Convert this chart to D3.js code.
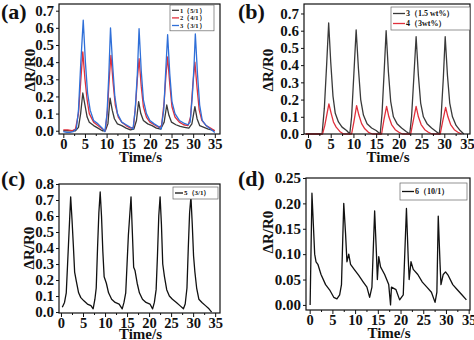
<!DOCTYPE html>
<html>
<head>
<meta charset="utf-8">
<script src="https://cdn.jsdelivr.net/npm/d3@7"></script>
<style>
  body { margin: 0; background: #fff; }
  svg { display: block; font-family: "Liberation Serif", "Times New Roman", serif; font-weight: bold; }
</style>
</head>
<body>
<div id="chart"></div>
<script>
// ---- data (time in s, ΔR/R0) ----
const xTicks = [0, 5, 10, 15, 20, 25, 30, 35];

const seriesA1 = [[0,0.0],[1,0.0],[2,0.0],[2.8,0.0],[3.5,0.02],[4,0.1],[4.5,0.22],[5,0.15],[5.5,0.08],[6,0.05],[7,0.03],[8,0.015],[9,0.0],[9.7,0.0],[10.3,0.04],[10.8,0.19],[11.3,0.12],[11.8,0.07],[12.5,0.04],[13.5,0.03],[14.5,0.015],[15.5,0.005],[16.3,0.01],[16.9,0.06],[17.4,0.17],[17.9,0.1],[18.5,0.06],[19.5,0.04],[20.5,0.03],[21.5,0.015],[22.5,0.01],[23.3,0.05],[23.9,0.15],[24.4,0.09],[25,0.05],[26,0.035],[27,0.025],[28,0.02],[29,0.015],[29.7,0.04],[30.4,0.14],[30.9,0.07],[31.5,0.03],[32.5,0.02],[33.5,0.01],[35,0.0]];
const seriesA2 = [[0,0.005],[1,0.005],[2,0.0],[2.8,0.01],[3.5,0.1],[4,0.28],[4.5,0.46],[5,0.3],[5.5,0.18],[6,0.1],[7,0.05],[8,0.03],[9,0.01],[9.7,0.0],[10.2,0.12],[10.6,0.3],[11,0.44],[11.5,0.28],[12,0.15],[12.7,0.08],[13.5,0.05],[14.5,0.03],[15.5,0.015],[16.2,0.02],[16.7,0.15],[17.1,0.3],[17.5,0.42],[18,0.26],[18.5,0.14],[19.2,0.08],[20,0.05],[21,0.035],[22,0.02],[22.7,0.03],[23.3,0.17],[23.7,0.32],[24.1,0.43],[24.6,0.27],[25.1,0.14],[25.8,0.08],[26.8,0.05],[27.8,0.035],[28.8,0.03],[29.4,0.08],[29.9,0.26],[30.4,0.4],[30.9,0.25],[31.4,0.12],[32,0.06],[33,0.03],[34,0.015],[35,0.0]];
const seriesA3 = [[0,-0.005],[0.8,-0.01],[1.5,-0.01],[2.3,-0.005],[3,0.01],[3.5,0.12],[4,0.38],[4.6,0.645],[5.1,0.4],[5.6,0.22],[6.2,0.12],[7,0.06],[8,0.04],[9,0.015],[9.6,-0.005],[10.1,0.1],[10.5,0.32],[10.9,0.6],[11.4,0.38],[11.9,0.2],[12.5,0.1],[13.5,0.05],[14.5,0.035],[15.5,0.02],[16.1,0.01],[16.6,0.12],[17.1,0.33],[17.5,0.595],[18,0.35],[18.5,0.18],[19.2,0.1],[20,0.06],[21,0.04],[22,0.025],[22.6,0.01],[23.2,0.12],[23.6,0.32],[24.1,0.56],[24.6,0.33],[25.1,0.17],[25.8,0.1],[26.8,0.06],[27.8,0.045],[28.8,0.035],[29.3,0.05],[29.8,0.2],[30.2,0.38],[30.5,0.565],[31,0.33],[31.5,0.15],[32.1,0.06],[33,0.03],[34,0.01],[35,-0.01]];

const seriesB3 = [[-0.5,0.0],[1,0.0],[2,0.0],[3.1,0.0],[3.6,0.15],[4.1,0.4],[4.55,0.645],[5,0.42],[5.5,0.22],[6,0.12],[6.7,0.07],[7.5,0.04],[8.5,0.02],[9.2,0.0],[9.6,0.1],[10.1,0.35],[10.6,0.605],[11.1,0.38],[11.6,0.2],[12.2,0.11],[13,0.06],[14,0.035],[15,0.02],[15.9,0.0],[16.3,0.12],[16.8,0.38],[17.2,0.6],[17.7,0.36],[18.2,0.19],[18.8,0.1],[19.6,0.06],[20.6,0.035],[21.6,0.015],[22.4,0.0],[22.8,0.1],[23.3,0.33],[23.8,0.565],[24.3,0.34],[24.8,0.18],[25.4,0.1],[26.2,0.06],[27.2,0.035],[28.2,0.015],[28.9,0.0],[29.3,0.1],[29.8,0.33],[30.2,0.565],[30.7,0.34],[31.2,0.18],[31.8,0.1],[32.6,0.05],[33.5,0.02],[34.3,0.0]];
const seriesB4 = [[-0.5,0.0],[1,0.0],[2,0.0],[3.2,0.0],[3.7,0.05],[4.2,0.12],[4.6,0.175],[5.1,0.12],[5.6,0.07],[6.2,0.04],[7,0.015],[7.8,0.0],[9.6,0.0],[10.1,0.07],[10.7,0.165],[11.2,0.11],[11.8,0.06],[12.5,0.03],[13.3,0.01],[14.2,0.0],[16.2,0.0],[16.7,0.08],[17.3,0.16],[17.8,0.1],[18.4,0.055],[19.2,0.025],[20,0.01],[20.8,0.0],[22.6,0.0],[23.2,0.08],[23.8,0.16],[24.3,0.1],[24.9,0.055],[25.7,0.025],[26.5,0.01],[27.3,0.0],[29.1,0.0],[29.7,0.08],[30.3,0.155],[30.8,0.1],[31.4,0.055],[32.2,0.025],[33,0.01],[33.8,0.0]];

const seriesC5 = [[0.3,0.03],[0.8,0.06],[1.2,0.12],[1.5,0.3],[1.7,0.42],[2.0,0.6],[2.2,0.72],[2.5,0.58],[2.8,0.42],[3.1,0.25],[3.5,0.19],[4.0,0.12],[4.5,0.09],[5.2,0.07],[6.0,0.05],[6.8,0.04],[7.3,0.02],[7.7,0.08],[8.0,0.15],[8.3,0.4],[8.6,0.62],[8.9,0.75],[9.2,0.6],[9.5,0.38],[9.8,0.22],[10.3,0.18],[10.8,0.12],[11.5,0.08],[12.3,0.06],[13.2,0.05],[13.9,0.02],[14.3,0.06],[14.7,0.12],[15.0,0.3],[15.3,0.48],[15.6,0.6],[15.9,0.72],[16.2,0.5],[16.5,0.28],[16.8,0.26],[17.3,0.18],[17.8,0.12],[18.5,0.08],[19.3,0.06],[20.2,0.05],[20.8,0.02],[21.2,0.06],[21.6,0.14],[21.9,0.35],[22.2,0.6],[22.5,0.72],[22.8,0.55],[23.1,0.3],[23.5,0.22],[24.0,0.14],[24.6,0.1],[25.3,0.08],[26.2,0.06],[27.0,0.04],[27.8,0.02],[28.2,0.05],[28.6,0.15],[28.9,0.4],[29.2,0.62],[29.5,0.72],[29.8,0.55],[30.1,0.35],[30.4,0.25],[30.8,0.15],[31.3,0.08],[32.0,0.06],[32.8,0.04],[33.6,0.02],[34.2,0.0]];

const seriesD6 = [[0.1,0.0],[0.5,0.22],[0.8,0.16],[1.1,0.1],[1.4,0.085],[1.8,0.08],[2.5,0.06],[3.5,0.04],[4.5,0.028],[5.3,0.015],[6.0,0.012],[6.6,0.02],[7.0,0.04],[7.5,0.2],[7.9,0.14],[8.2,0.085],[8.6,0.1],[9.0,0.08],[9.8,0.07],[10.8,0.058],[11.8,0.045],[12.6,0.035],[13.2,0.015],[13.7,0.035],[14.3,0.185],[14.7,0.1],[14.9,0.05],[15.2,0.095],[15.6,0.075],[16.5,0.06],[17.4,0.04],[17.8,0.0],[18.0,0.035],[19.0,0.03],[19.8,0.01],[20.6,0.02],[21.3,0.19],[21.7,0.09],[21.9,0.05],[22.3,0.085],[22.8,0.07],[23.8,0.06],[24.8,0.045],[25.8,0.035],[26.8,0.025],[27.6,0.005],[28.0,0.025],[28.3,0.175],[28.7,0.08],[28.9,0.04],[29.4,0.06],[29.9,0.065],[30.5,0.058],[31.5,0.04],[32.5,0.03],[33.5,0.02],[34.5,0.01]];

const panels = [
  { tag: "(a)", tagX: 1, tagY: 19, box: [59, 220, 4, 134], xDom: [-1, 36.2], yDom: [-0.019, 0.739],
    yTicks: [0, 0.1, 0.2, 0.3, 0.4, 0.5, 0.6, 0.7], yFmt: d3.format(".1f"), ylabX: 30, ylabY: 70, tY: 28,
    series: [
      { data: seriesA1, color: "#3a3a3a", name: "1（5/1）" },
      { data: seriesA2, color: "#e0303c", name: "2（4/1）" },
      { data: seriesA3, color: "#2f6fd8", name: "3（3/1）" }],
    legend: { x: 170, y: 5, w: 44, rowH: 7.6, fs: 6.5, line: 7 } },
  { tag: "(b)", tagX: 238, tagY: 19, box: [304, 470, 4, 134], xDom: [-0.88, 35.66], yDom: [0, 0.755],
    yTicks: [0, 0.1, 0.2, 0.3, 0.4, 0.5, 0.6, 0.7], yFmt: d3.format(".1f"), ylabX: 268, ylabY: 70, tY: 28,
    series: [
      { data: seriesB3, color: "#3a3a3a", name: "3（1.5 wt%）" },
      { data: seriesB4, color: "#e0303c", name: "4（3wt%）" }],
    legend: { x: 391, y: 7, w: 79, rowH: 10, fs: 8, line: 12 } },
  { tag: "(c)", tagX: 1, tagY: 186, box: [59, 220, 184, 313], xDom: [-0.45, 36.1], yDom: [-0.006, 0.8],
    yTicks: [0, 0.1, 0.2, 0.3, 0.4, 0.5, 0.6, 0.7, 0.8], yFmt: d3.format(".1f"), ylabX: 29, ylabY: 248, tY: 26,
    series: [{ data: seriesC5, color: "#111", name: "5（3/1）" }],
    legend: { x: 173, y: 187, w: 45, rowH: 9, fs: 7, line: 8 } },
  { tag: "(d)", tagX: 238, tagY: 186, box: [306, 470, 178, 310], xDom: [-0.81, 35.29], yDom: [-0.01, 0.25],
    yTicks: [0, 0.05, 0.1, 0.15, 0.2, 0.25], yFmt: d3.format(".2f"), ylabX: 268, ylabY: 232, tY: 28,
    series: [{ data: seriesD6, color: "#111", name: "6（10/1）" }],
    legend: { x: 400, y: 183, w: 67, rowH: 14, fs: 8, line: 12 } }
];

const svg = d3.select("#chart").append("svg").attr("width", 474).attr("height", 340);

panels.forEach(p => {
  const [x0, x1, y0, y1] = p.box;
  const x = d3.scaleLinear().domain(p.xDom).range([x0, x1]);
  const y = d3.scaleLinear().domain(p.yDom).range([y1, y0]);
  const g = svg.append("g");

  // data lines
  const line = d3.line().x(d => x(d[0])).y(d => y(d[1]));
  p.series.forEach(s => {
    g.append("path").attr("d", line(s.data)).attr("fill", "none")
      .attr("stroke", s.color).attr("stroke-width", 1.3).attr("stroke-linejoin", "round");
  });

  // frame
  g.append("rect").attr("x", x0).attr("y", y0).attr("width", x1 - x0).attr("height", y1 - y0)
    .attr("fill", "none").attr("stroke", "#111").attr("stroke-width", 1.2);

  // x axis
  const xAxis = g.append("g").attr("transform", `translate(0,${y1})`)
    .call(d3.axisBottom(x).tickValues(xTicks).tickSize(4).tickSizeOuter(0).tickPadding(1));
  g.append("g").attr("transform", `translate(0,${y1})`)
    .call(d3.axisBottom(x).tickValues(d3.range(0, 35.1, 2.5).filter(v => v % 5 !== 0)).tickSize(2).tickFormat(""))
    .call(a => a.select(".domain").remove());
  xAxis.select(".domain").remove();
  xAxis.selectAll("text").attr("font-size", 14.5).attr("font-family", "Liberation Serif").attr("font-weight", "bold").attr("fill", "#111");

  // y axis
  const yAxis = g.append("g").attr("transform", `translate(${x0},0)`)
    .call(d3.axisLeft(y).tickValues(p.yTicks).tickFormat(p.yFmt).tickSize(3).tickSizeOuter(0).tickPadding(2));
  yAxis.select(".domain").remove();
  yAxis.selectAll("text").attr("font-size", 15).attr("font-family", "Liberation Serif").attr("font-weight", "bold").attr("fill", "#111");
  g.selectAll(".tick line").attr("stroke", "#111");

  // axis labels
  g.append("text").attr("x", (x0 + x1) / 2 + 1).attr("y", y1 + p.tY).attr("text-anchor", "middle")
    .attr("font-size", 15).attr("fill", "#111").text("Time/s");
  g.append("text").attr("transform", `translate(${p.ylabX},${p.ylabY}) rotate(-90)`)
    .attr("text-anchor", "middle").attr("dy", "0.35em").attr("font-size", 15).attr("fill", "#111").text("ΔR/R0");

  // panel tag
  g.append("text").attr("x", p.tagX).attr("y", p.tagY).attr("font-size", 22).attr("fill", "#111").text(p.tag);

  // legend
  const L = p.legend;
  const h = L.rowH * p.series.length + 3;
  g.append("rect").attr("x", L.x).attr("y", L.y).attr("width", L.w).attr("height", h)
    .attr("fill", "#fff").attr("stroke", "#666").attr("stroke-width", 0.7);
  p.series.forEach((s, i) => {
    const cy = L.y + 1.5 + L.rowH * (i + 0.5);
    g.append("line").attr("x1", L.x + 2).attr("x2", L.x + 2 + L.line).attr("y1", cy).attr("y2", cy)
      .attr("stroke", s.color).attr("stroke-width", 1.3);
    g.append("text").attr("x", L.x + 3 + L.line).attr("y", cy).attr("dy", "0.35em")
      .attr("font-size", L.fs).attr("fill", "#111").text(s.name);
  });
});
</script>
</body>
</html>
